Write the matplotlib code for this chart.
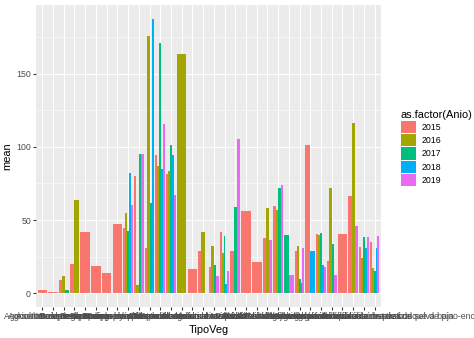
import numpy as np
import matplotlib
matplotlib.use('Agg')
import matplotlib.pyplot as plt
from matplotlib.patches import Patch

plt.rcParams['font.family'] = ['Liberation Sans', 'DejaVu Sans']

# vegetation types (x categories) - the labels overlap in the original too
tipo_veg = [
    "Agricultura de riego", "Agricultura de temporal", "Asentamientos humanos",
    "Bosque de encino", "Bosque de encino-pino", "Bosque de galería",
    "Bosque de oyamel", "Bosque de pino", "Bosque de pino-encino",
    "Bosque mesófilo de montaña", "Chaparral", "Cuerpo de agua",
    "Matorral crasicaule", "Matorral desértico micrófilo",
    "Matorral desértico rosetófilo", "Matorral submontano",
    "Matorral sarcocaule", "Mezquital", "Palmar", "Pastizal halófilo",
    "Pastizal inducido", "Pastizal natural", "Pastizal cultivado",
    "Selva baja caducifolia", "Selva mediana subcaducifolia",
    "Selva alta perennifolia", "Sin vegetación aparente", "Tular",
    "Vegetación de dunas costeras", "Vegetación halófila de pastizal",
    "Vegetación secundaria arbustiva de selva baja",
    "Vegetación secundaria arbórea de bosque de pino-encino",
]

years = ["2015", "2016", "2017", "2018", "2019"]
colors = ["#F8766D", "#A3A500", "#00BF7D", "#00B0F6", "#E76BF3"]

N = None
mean_2015 = [2.0, 1.1, 9.3, 20.0, 41.6, 18.4, 13.6, 47.5, 44.3, 80.0, 30.7, 94.3,
             81.3, N, 16.4, 28.8, 18.2, 41.6, 28.8, 56.3, 21.6, 37.5, 59.7, N,
             28.6, 101.1, 40.2, 22.0, 40.6, 66.3, 31.8, 35.2]
mean_2016 = [N, N, 11.8, 63.6, N, N, N, N, 54.5, 5.7, 176.0, 86.8,
             83.4, 163.6, N, 41.6, 32.2, 27.7, N, N, N, 57.9, 57.0, N,
             32.3, N, 39.7, 72.0, N, 116.0, 23.9, 17.0]
mean_2017 = [N, N, 2.5, N, N, N, N, N, 42.5, 94.8, 61.8, 170.8,
             101.6, N, N, 0.0, 19.3, 39.1, 58.6, N, N, N, 71.8, 39.7,
             9.9, N, 41.3, 33.4, N, N, 38.2, 15.2]
mean_2018 = [N, N, N, N, N, N, N, N, 81.8, N, 187.5, 85.2,
             94.3, N, N, N, N, 6.1, N, N, N, N, N, N,
             7.0, 28.8, 19.3, N, N, N, 30.7, 30.7]
mean_2019 = [N, N, N, N, N, N, N, N, 60.4, 94.8, N, 115.4,
             67.0, N, N, N, 11.8, 15.2, 105.7, N, N, 36.3, 73.8, 12.5,
             30.7, N, 18.2, 12.5, N, 45.9, 38.2, 39.1]

series = [mean_2015, mean_2016, mean_2017, mean_2018, mean_2019]

fig = plt.figure(figsize=(474 / 72, 338 / 72), dpi=72)
ax = fig.add_axes([35.9 / 474, 31 / 338, 345.1 / 474, 302 / 338])
ax.set_facecolor('#EBEBEB')

# dodge like ggplot: split the 0.9 slot among the years present
n_cat = len(tipo_veg)
for i in range(n_cat):
    present = [k for k in range(len(years)) if series[k][i] is not None]
    w = 0.9 / len(present)
    for j, k in enumerate(present):
        x = (i + 1) - 0.45 + w * (j + 0.5)
        ax.bar(x, series[k][i], width=w, color=colors[k], zorder=3, linewidth=0)

ymax = max(v for s in series for v in s if v is not None)
ax.set_ylim(-0.05 * ymax, 1.05 * ymax)
ax.set_xlim(0.4, n_cat + 0.6)

ax.set_yticks([0, 50, 100, 150])
ax.set_yticks([25, 75, 125, 175], minor=True)
ax.set_xticks(np.arange(1, n_cat + 1))
ax.set_xticklabels(tipo_veg)
ax.grid(True, which='major', color='white', linewidth=1.07, zorder=0)
ax.grid(True, which='minor', axis='y', color='white', linewidth=0.53, zorder=0)
ax.set_axisbelow(True)
for sp in ax.spines.values():
    sp.set_visible(False)
ax.tick_params(which='major', length=2.75, width=1.07, color='#333333',
               labelsize=8.8, labelcolor='#4D4D4D', pad=2.2)
ax.tick_params(which='minor', length=0)

ax.set_xlabel('TipoVeg', fontsize=11, labelpad=4)
ax.set_ylabel('mean', fontsize=11, labelpad=4)

handles = [Patch(facecolor=c, label=y) for c, y in zip(colors, years)]
leg = fig.legend(handles=handles, title='as.factor(Anio)', loc='upper left',
                 bbox_to_anchor=(393 / 474, 1 - 102 / 338), frameon=False,
                 fontsize=8.8, title_fontsize=11, handlelength=1.75,
                 handleheight=1.75, labelspacing=0.12, handletextpad=0.6,
                 alignment='left')

fig.savefig('out.png', dpi=72)
